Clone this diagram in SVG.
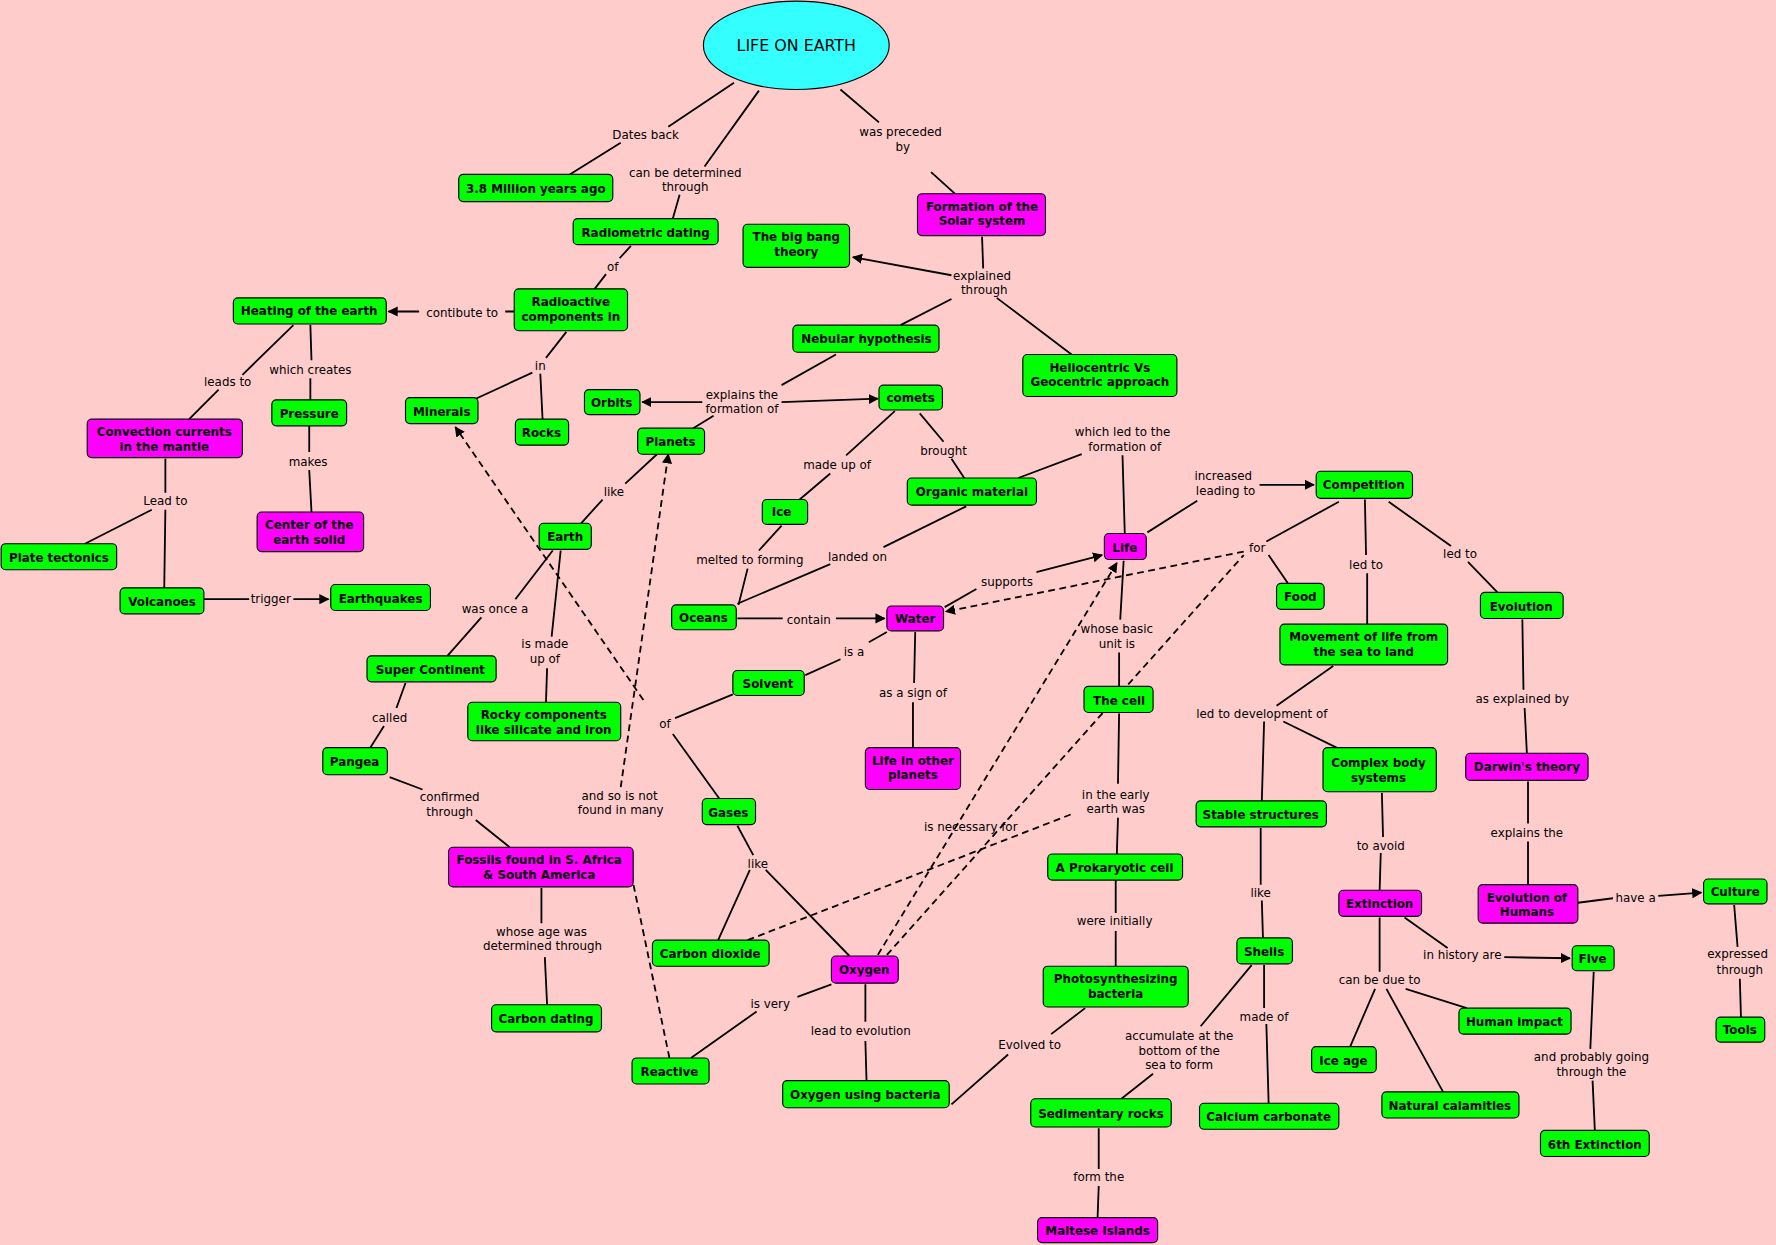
<svg xmlns="http://www.w3.org/2000/svg" width="1776" height="1245" viewBox="0 0 1776 1245">
<defs>
<style>
.g{fill:#00FF00;stroke:#000;stroke-width:1}
.m{fill:#FF00FF;stroke:#000;stroke-width:1}
.t{font-family:"DejaVu Sans",Verdana,sans-serif;font-size:10.5px;font-weight:bold;text-anchor:middle;fill:#000}
.l{font-family:"DejaVu Sans",Verdana,sans-serif;font-size:10.5px;text-anchor:middle;fill:#000}
.c path{fill:none;stroke:#000;stroke-width:1.6}
.c .d{stroke-dasharray:6,4}
</style>
<marker id="a" viewBox="0 0 10 10" refX="9" refY="5" markerWidth="9" markerHeight="9" markerUnits="userSpaceOnUse" orient="auto"><path d="M0,0L10,5L0,10z" fill="#000"/></marker>
</defs>
<rect width="1776" height="1245" fill="#FFCCCC"/>
<g transform="scale(1.1327)">
<g class="c" id="connectors">
<path d="M648,73L590,112M548,126L503,154"/>
<path d="M670,80L622,147M600,172L594,193"/>
<path d="M742,79L776,108M822,152L843,171"/>
<path d="M557,217L547,228M535,242L525,255"/>
<path d="M454,275L446,275M370,275L343,275" marker-end="url(#a)"/>
<path d="M500,293L482,316M470,329L420,352M477,330L479,370"/>
<path d="M259,287L214,331M193,344L167,370"/>
<path d="M274,287L275,318M274,334L274,353"/>
<path d="M273,376L273,399M273,415L275,452"/>
<path d="M146,405L146,435M134,450L75,480M146,450L145,519"/>
<path d="M180,529L220,529M259,529L290,529" marker-end="url(#a)"/>
<path d="M867,209L868,237M840,264L795,287M880,263L946,313"/>
<path d="M840,243L753,227" marker-end="url(#a)"/>
<path d="M738,313L690,340M630,367L612,378"/>
<path d="M620,355L567,355" marker-end="url(#a)"/>
<path d="M690,355L775,352" marker-end="url(#a)"/>
<path d="M790,363L747,402M733,418L706,441"/>
<path d="M812,365L833,390M840,405L852,423"/>
<path d="M853,447L780,483M733,498L651,533"/>
<path d="M690,464L670,486M660,502L652,534"/>
<path d="M580,401L552,427M532,441L513,462"/>
<path d="M488,486L455,529M425,545L395,579"/>
<path d="M495,486L487,562M483,590L482,620"/>
<path d="M358,603L350,625M339,641L327,660"/>
<path d="M344,686L373,697M420,724L450,748"/>
<path d="M478,784L478,815M481,845L483,887"/>
<path d="M651,546L691,546M738,546L781,546" marker-end="url(#a)"/>
<path d="M834,536L862,520M915,505L973,490" marker-end="url(#a)"/>
<path d="M783,558L767,567M742,582L711,596"/>
<path d="M808,558L807,603M806,620L806,660"/>
<path d="M647,613L596,634M594,648L635,705"/>
<path class="d" d="M568,618L402,377" marker-end="url(#a)"/>
<path d="M651,729L665,755M662,768L634,830M676,768L750,844"/>
<path d="M734,869L704,880M668,893L610,934"/>
<path d="M764,869L764,902M764,919L765,954"/>
<path class="d" d="M591,934L558,775"/>
<path class="d" d="M548,695L590,401" marker-end="url(#a)"/>
<path class="d" d="M775,843L986,497" marker-end="url(#a)"/>
<path class="d" d="M783,843L1098,490"/>
<path class="d" d="M660,830L948,718"/>
<path d="M1182,443L1118,478M1120,490L1137,515"/>
<path class="d" d="M1098,487L835,540" marker-end="url(#a)"/>
<path d="M1013,470L1057,442M1112,428L1160,428" marker-end="url(#a)"/>
<path d="M899,422L955,401M991,402L993,471"/>
<path d="M992,495L989,547M988,576L988,606"/>
<path d="M988,630L987,692M987,722L986,754"/>
<path d="M985,777L985,806M985,822L985,853"/>
<path d="M958,890L928,913M890,931L840,975"/>
<path d="M1205,441L1206,490M1207,506L1207,551"/>
<path d="M1226,443L1281,482M1296,496L1322,523"/>
<path d="M1177,588L1127,623M1116,637L1114,707M1133,637L1180,660"/>
<path d="M1344,547L1345,609M1346,625L1348,665"/>
<path d="M1349,690L1349,727M1349,743L1349,781"/>
<path d="M1393,797L1424,793M1464,791L1502,788" marker-end="url(#a)"/>
<path d="M1531,799L1534,836M1536,864L1537,898"/>
<path d="M1220,700L1221,739M1219,753L1218,786"/>
<path d="M1240,810L1278,837M1328,845L1386,846" marker-end="url(#a)"/>
<path d="M1218,810L1218,858M1214,873L1192,924M1241,873L1295,890M1224,873L1274,964"/>
<path d="M1407,858L1404,926M1406,954L1408,998"/>
<path d="M1113,731L1113,781M1114,795L1115,828"/>
<path d="M1105,852L1060,906M1018,948L990,970"/>
<path d="M1116,852L1116,890M1118,904L1120,974"/>
<path d="M970,996L970,1032M970,1047L969,1075"/>
</g>
<g id="labels">
<text class="l" x="570" y="123">Dates back</text>
<text class="l" x="605" y="156">can be determined</text><text class="l" x="605" y="169">through</text>
<text class="l" x="795" y="120">was preceded</text><text class="l" x="797" y="133">by</text>
<text class="l" x="541" y="239">of</text>
<text class="l" x="408" y="280">contibute to</text>
<text class="l" x="477" y="327">in</text>
<text class="l" x="201" y="341">leads to</text>
<text class="l" x="274" y="330">which creates</text>
<text class="l" x="272" y="411">makes</text>
<text class="l" x="146" y="446">Lead to</text>
<text class="l" x="239" y="532">trigger</text>
<text class="l" x="867" y="247">explained</text><text class="l" x="869" y="260">through</text>
<text class="l" x="655" y="352">explains the</text><text class="l" x="655" y="365">formation of</text>
<text class="l" x="739" y="414">made up of</text>
<text class="l" x="833" y="402">brought</text>
<text class="l" x="757" y="495">landed on</text>
<text class="l" x="662" y="498">melted to forming</text>
<text class="l" x="542" y="438">like</text>
<text class="l" x="437" y="541">was once a</text>
<text class="l" x="481" y="572">is made</text><text class="l" x="481" y="585">up of</text>
<text class="l" x="344" y="637">called</text>
<text class="l" x="397" y="707">confirmed</text><text class="l" x="397" y="720">through</text>
<text class="l" x="478" y="826">whose age was</text><text class="l" x="479" y="839">determined through</text>
<text class="l" x="714" y="551">contain</text>
<text class="l" x="889" y="517">supports</text>
<text class="l" x="754" y="579">is a</text>
<text class="l" x="806" y="615">as a sign of</text>
<text class="l" x="587" y="643">of</text>
<text class="l" x="669" y="766">like</text>
<text class="l" x="680" y="890">is very</text>
<text class="l" x="760" y="914">lead to evolution</text>
<text class="l" x="547" y="706">and so is not</text><text class="l" x="548" y="719">found in many</text>
<text class="l" x="857" y="734">is necessary for</text>
<text class="l" x="1110" y="487">for</text>
<text class="l" x="1080" y="424">increased</text><text class="l" x="1082" y="437">leading to</text>
<text class="l" x="991" y="385">which led to the</text><text class="l" x="993" y="398">formation of</text>
<text class="l" x="986" y="559">whose basic</text><text class="l" x="986" y="572">unit is</text>
<text class="l" x="985" y="705">in the early</text><text class="l" x="985" y="718">earth was</text>
<text class="l" x="984" y="817">were initially</text>
<text class="l" x="909" y="926">Evolved to</text>
<text class="l" x="1206" y="502">led to</text>
<text class="l" x="1289" y="493">led to</text>
<text class="l" x="1114" y="634">led to development of</text>
<text class="l" x="1344" y="621">as explained by</text>
<text class="l" x="1348" y="739">explains the</text>
<text class="l" x="1444" y="796">have a</text>
<text class="l" x="1534" y="846">expressed</text><text class="l" x="1536" y="860">through</text>
<text class="l" x="1219" y="750">to avoid</text>
<text class="l" x="1291" y="847">in history are</text>
<text class="l" x="1218" y="869">can be due to</text>
<text class="l" x="1405" y="937">and probably going</text><text class="l" x="1405" y="950">through the</text>
<text class="l" x="1113" y="792">like</text>
<text class="l" x="1041" y="918">accumulate at the</text><text class="l" x="1041" y="931">bottom of the</text><text class="l" x="1041" y="944">sea to form</text>
<text class="l" x="1116" y="901">made of</text>
<text class="l" x="970" y="1043">form the</text>
</g>
<g id="n_life_on_earth"><ellipse cx="703" cy="40" rx="82" ry="39" fill="#33FFFF" stroke="#000"/><text x="703" y="45" style="font-family:'DejaVu Sans',sans-serif;font-size:14px;text-anchor:middle">LIFE ON EARTH</text></g>
<g id="n_38"><rect class="g" x="405" y="154" width="136" height="24" rx="4"/><text class="t" x="473" y="170">3.8 Million years ago</text></g>
<g id="n_radiometric"><rect class="g" x="506" y="193" width="128" height="23" rx="4"/><text class="t" x="570" y="209">Radiometric dating</text></g>
<g id="n_formation"><rect class="m" x="810" y="171" width="113" height="37" rx="4"/><text class="t" x="867" y="186">Formation of the</text><text class="t" x="867" y="199">Solar system</text></g>
<g id="n_bigbang"><rect class="g" x="656" y="198" width="94" height="38" rx="4"/><text class="t" x="703" y="213">The big bang</text><text class="t" x="703" y="226">theory</text></g>
<g id="n_radioactive"><rect class="g" x="454" y="255" width="100" height="37" rx="4"/><text class="t" x="504" y="270">Radioactive</text><text class="t" x="504" y="283">components in</text></g>
<g id="n_heating"><rect class="g" x="206" y="263" width="135" height="23" rx="4"/><text class="t" x="273" y="278">Heating of the earth</text></g>
<g id="n_nebular"><rect class="g" x="700" y="287" width="129" height="24" rx="4"/><text class="t" x="765" y="303">Nebular hypothesis</text></g>
<g id="n_helio"><rect class="g" x="903" y="313" width="136" height="37" rx="4"/><text class="t" x="971" y="328">Heliocentric Vs</text><text class="t" x="971" y="341">Geocentric approach</text></g>
<g id="n_minerals"><rect class="g" x="358" y="351" width="64" height="23" rx="4"/><text class="t" x="390" y="367">Minerals</text></g>
<g id="n_rocks"><rect class="g" x="455" y="370" width="47" height="23" rx="4"/><text class="t" x="478" y="386">Rocks</text></g>
<g id="n_orbits"><rect class="g" x="516" y="344" width="49" height="22" rx="4"/><text class="t" x="540" y="359">Orbits</text></g>
<g id="n_comets"><rect class="g" x="776" y="340" width="56" height="22" rx="4"/><text class="t" x="804" y="355">comets</text></g>
<g id="n_planets"><rect class="g" x="563" y="378" width="59" height="23" rx="4"/><text class="t" x="592" y="394">Planets</text></g>
<g id="n_pressure"><rect class="g" x="240" y="353" width="66" height="23" rx="4"/><text class="t" x="273" y="369">Pressure</text></g>
<g id="n_convection"><rect class="m" x="77" y="370" width="137" height="34" rx="4"/><text class="t" x="145" y="385">Convection currents</text><text class="t" x="145" y="398">in the mantle</text></g>
<g id="n_center"><rect class="m" x="227" y="452" width="94" height="35" rx="4"/><text class="t" x="273" y="467">Center of the</text><text class="t" x="273" y="480">earth solid</text></g>
<g id="n_plate"><rect class="g" x="1" y="480" width="102" height="23" rx="4"/><text class="t" x="52" y="496">Plate tectonics</text></g>
<g id="n_volcanoes"><rect class="g" x="106" y="519" width="74" height="23" rx="4"/><text class="t" x="143" y="535">Volcanoes</text></g>
<g id="n_earthquakes"><rect class="g" x="292" y="516" width="88" height="23" rx="4"/><text class="t" x="336" y="532">Earthquakes</text></g>
<g id="n_earth"><rect class="g" x="476" y="462" width="46" height="23" rx="4"/><text class="t" x="499" y="478">Earth</text></g>
<g id="n_ice"><rect class="g" x="673" y="441" width="40" height="22" rx="4"/><text class="t" x="690" y="456">Ice</text></g>
<g id="n_organic"><rect class="g" x="801" y="422" width="114" height="24" rx="4"/><text class="t" x="858" y="438">Organic material</text></g>
<g id="n_life"><rect class="m" x="975" y="471" width="37" height="23" rx="4"/><text class="t" x="993" y="487">Life</text></g>
<g id="n_competition"><rect class="g" x="1162" y="416" width="85" height="24" rx="4"/><text class="t" x="1204" y="432">Competition</text></g>
<g id="n_food"><rect class="g" x="1127" y="515" width="42" height="23" rx="4"/><text class="t" x="1148" y="531">Food</text></g>
<g id="n_oceans"><rect class="g" x="593" y="534" width="57" height="22" rx="4"/><text class="t" x="621" y="549">Oceans</text></g>
<g id="n_water"><rect class="m" x="783" y="535" width="50" height="22" rx="4"/><text class="t" x="808" y="550">Water</text></g>
<g id="n_evolution"><rect class="g" x="1307" y="523" width="73" height="23" rx="4"/><text class="t" x="1343" y="539">Evolution</text></g>
<g id="n_movement"><rect class="g" x="1130" y="551" width="148" height="36" rx="4"/><text class="t" x="1204" y="566">Movement of life from</text><text class="t" x="1204" y="579">the sea to land</text></g>
<g id="n_super"><rect class="g" x="324" y="579" width="114" height="23" rx="4"/><text class="t" x="380" y="595">Super Continent</text></g>
<g id="n_solvent"><rect class="g" x="647" y="592" width="63" height="22" rx="4"/><text class="t" x="678" y="607">Solvent</text></g>
<g id="n_rocky"><rect class="g" x="413" y="620" width="135" height="34" rx="4"/><text class="t" x="480" y="635">Rocky components</text><text class="t" x="480" y="648">like silicate and iron</text></g>
<g id="n_cell"><rect class="g" x="957" y="606" width="61" height="23" rx="4"/><text class="t" x="988" y="622">The cell</text></g>
<g id="n_lifeother"><rect class="m" x="764" y="660" width="84" height="37" rx="4"/><text class="t" x="806" y="675">Life in other</text><text class="t" x="806" y="688">planets</text></g>
<g id="n_pangea"><rect class="g" x="285" y="660" width="57" height="24" rx="4"/><text class="t" x="313" y="676">Pangea</text></g>
<g id="n_complex"><rect class="g" x="1168" y="660" width="100" height="39" rx="4"/><text class="t" x="1217" y="677">Complex body</text><text class="t" x="1217" y="690">systems</text></g>
<g id="n_darwin"><rect class="m" x="1294" y="665" width="108" height="24" rx="4"/><text class="t" x="1348" y="681">Darwin's theory</text></g>
<g id="n_stable"><rect class="g" x="1056" y="707" width="115" height="23" rx="4"/><text class="t" x="1113" y="723">Stable structures</text></g>
<g id="n_gases"><rect class="g" x="620" y="705" width="47" height="23" rx="4"/><text class="t" x="643" y="721">Gases</text></g>
<g id="n_fossils"><rect class="m" x="396" y="748" width="163" height="35" rx="4"/><text class="t" x="476" y="763">Fossils found in S. Africa</text><text class="t" x="476" y="776">&amp; South America</text></g>
<g id="n_prokaryotic"><rect class="g" x="925" y="754" width="119" height="23" rx="4"/><text class="t" x="984" y="770">A Prokaryotic cell</text></g>
<g id="n_evohumans"><rect class="m" x="1305" y="781" width="88" height="34" rx="4"/><text class="t" x="1348" y="796">Evolution of</text><text class="t" x="1348" y="809">Humans</text></g>
<g id="n_culture"><rect class="g" x="1504" y="776" width="56" height="22" rx="4"/><text class="t" x="1532" y="791">Culture</text></g>
<g id="n_extinction"><rect class="m" x="1182" y="786" width="73" height="23" rx="4"/><text class="t" x="1218" y="802">Extinction</text></g>
<g id="n_shells"><rect class="g" x="1092" y="828" width="49" height="23" rx="4"/><text class="t" x="1116" y="844">Shells</text></g>
<g id="n_co2"><rect class="g" x="576" y="830" width="103" height="23" rx="4"/><text class="t" x="627" y="846">Carbon dioxide</text></g>
<g id="n_oxygen"><rect class="m" x="734" y="844" width="59" height="24" rx="4"/><text class="t" x="763" y="860">Oxygen</text></g>
<g id="n_five"><rect class="g" x="1388" y="835" width="37" height="22" rx="4"/><text class="t" x="1406" y="850">Five</text></g>
<g id="n_photo"><rect class="g" x="921" y="853" width="128" height="36" rx="4"/><text class="t" x="985" y="868">Photosynthesizing</text><text class="t" x="985" y="881">bacteria</text></g>
<g id="n_carbondating"><rect class="g" x="434" y="887" width="97" height="24" rx="4"/><text class="t" x="482" y="903">Carbon dating</text></g>
<g id="n_human"><rect class="g" x="1288" y="890" width="99" height="23" rx="4"/><text class="t" x="1337" y="906">Human impact</text></g>
<g id="n_tools"><rect class="g" x="1515" y="898" width="43" height="22" rx="4"/><text class="t" x="1536" y="913">Tools</text></g>
<g id="n_iceage"><rect class="g" x="1158" y="924" width="57" height="23" rx="4"/><text class="t" x="1186" y="940">Ice age</text></g>
<g id="n_reactive"><rect class="g" x="558" y="934" width="68" height="23" rx="4"/><text class="t" x="591" y="950">Reactive</text></g>
<g id="n_oxyusing"><rect class="g" x="691" y="954" width="147" height="24" rx="4"/><text class="t" x="764" y="970">Oxygen using bacteria</text></g>
<g id="n_natural"><rect class="g" x="1220" y="964" width="121" height="23" rx="4"/><text class="t" x="1280" y="980">Natural calamities</text></g>
<g id="n_sedimentary"><rect class="g" x="910" y="970" width="124" height="25" rx="4"/><text class="t" x="972" y="987">Sedimentary rocks</text></g>
<g id="n_calcium"><rect class="g" x="1059" y="974" width="123" height="23" rx="4"/><text class="t" x="1120" y="990">Calcium carbonate</text></g>
<g id="n_6th"><rect class="g" x="1360" y="998" width="96" height="23" rx="4"/><text class="t" x="1408" y="1014">6th Extinction</text></g>
<g id="n_maltese"><rect class="m" x="916" y="1075" width="106" height="22" rx="4"/><text class="t" x="969" y="1090">Maltese Islands</text></g>
</g>
</svg>
